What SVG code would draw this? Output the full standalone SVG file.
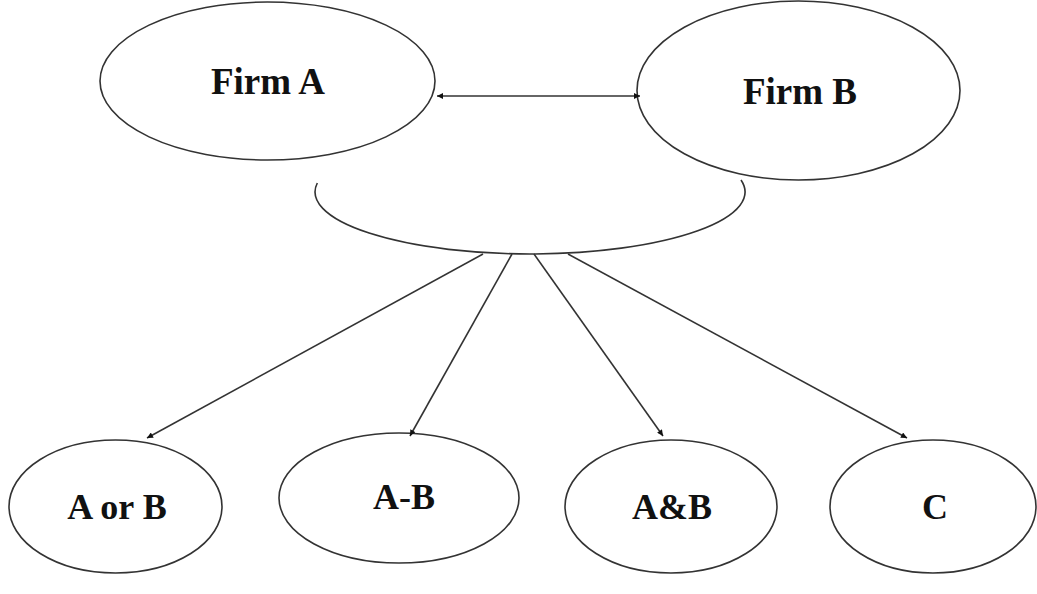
<svg xmlns="http://www.w3.org/2000/svg" width="1037" height="594" viewBox="0 0 1037 594">
<style>
.node{fill:#fff;stroke:#333;stroke-width:1.6}
.lbl{font-family:"Liberation Serif","Times New Roman",serif;font-weight:bold;font-size:36px;fill:#111;text-anchor:middle}
.edge{fill:none;stroke:#333;stroke-width:1.6}
</style>
<defs>
<marker id="ah" viewBox="0 0 10 10" refX="10" refY="5" markerWidth="7" markerHeight="6" markerUnits="userSpaceOnUse" orient="auto-start-reverse">
<path d="M0,0 L10,5 L0,10 z" fill="#111"/>
</marker>
</defs>
<rect width="1037" height="594" fill="#fff"/>
<g id="firmA"><ellipse class="node" cx="267.5" cy="81" rx="167.5" ry="79"/><text class="lbl" x="268" y="94" style="font-size:37px">Firm A</text></g>
<g id="firmB"><ellipse class="node" cx="798.5" cy="90.5" rx="161.5" ry="89.5"/><text class="lbl" x="800" y="104" style="font-size:37px">Firm B</text></g>
<g id="joint"><path class="edge" d="M317.3,183 A215,62 0 1 0 741,180"/></g>
<g id="aorb"><ellipse class="node" cx="115.5" cy="506.5" rx="106.5" ry="66.5"/><text class="lbl" x="117" y="519">A or B</text></g>
<g id="amb"><ellipse class="node" cx="399" cy="498" rx="120" ry="65"/><text class="lbl" x="404" y="509">A-B</text></g>
<g id="aandb"><ellipse class="node" cx="671" cy="506.5" rx="106" ry="66.5"/><text class="lbl" x="672" y="519">A&amp;B</text></g>
<g id="c"><ellipse class="node" cx="933" cy="506.5" rx="103" ry="66.5"/><text class="lbl" x="935" y="519">C</text></g>
<g id="connectors">
<line class="edge" x1="437" y1="96" x2="640" y2="96" marker-start="url(#ah)" marker-end="url(#ah)"/>
<line class="edge" x1="483" y1="254" x2="147" y2="438" marker-end="url(#ah)"/>
<line class="edge" x1="512" y1="254" x2="410" y2="436" marker-end="url(#ah)"/>
<line class="edge" x1="534" y1="254" x2="663" y2="436" marker-end="url(#ah)"/>
<line class="edge" x1="568" y1="254" x2="907" y2="438" marker-end="url(#ah)"/>
</g>
</svg>
